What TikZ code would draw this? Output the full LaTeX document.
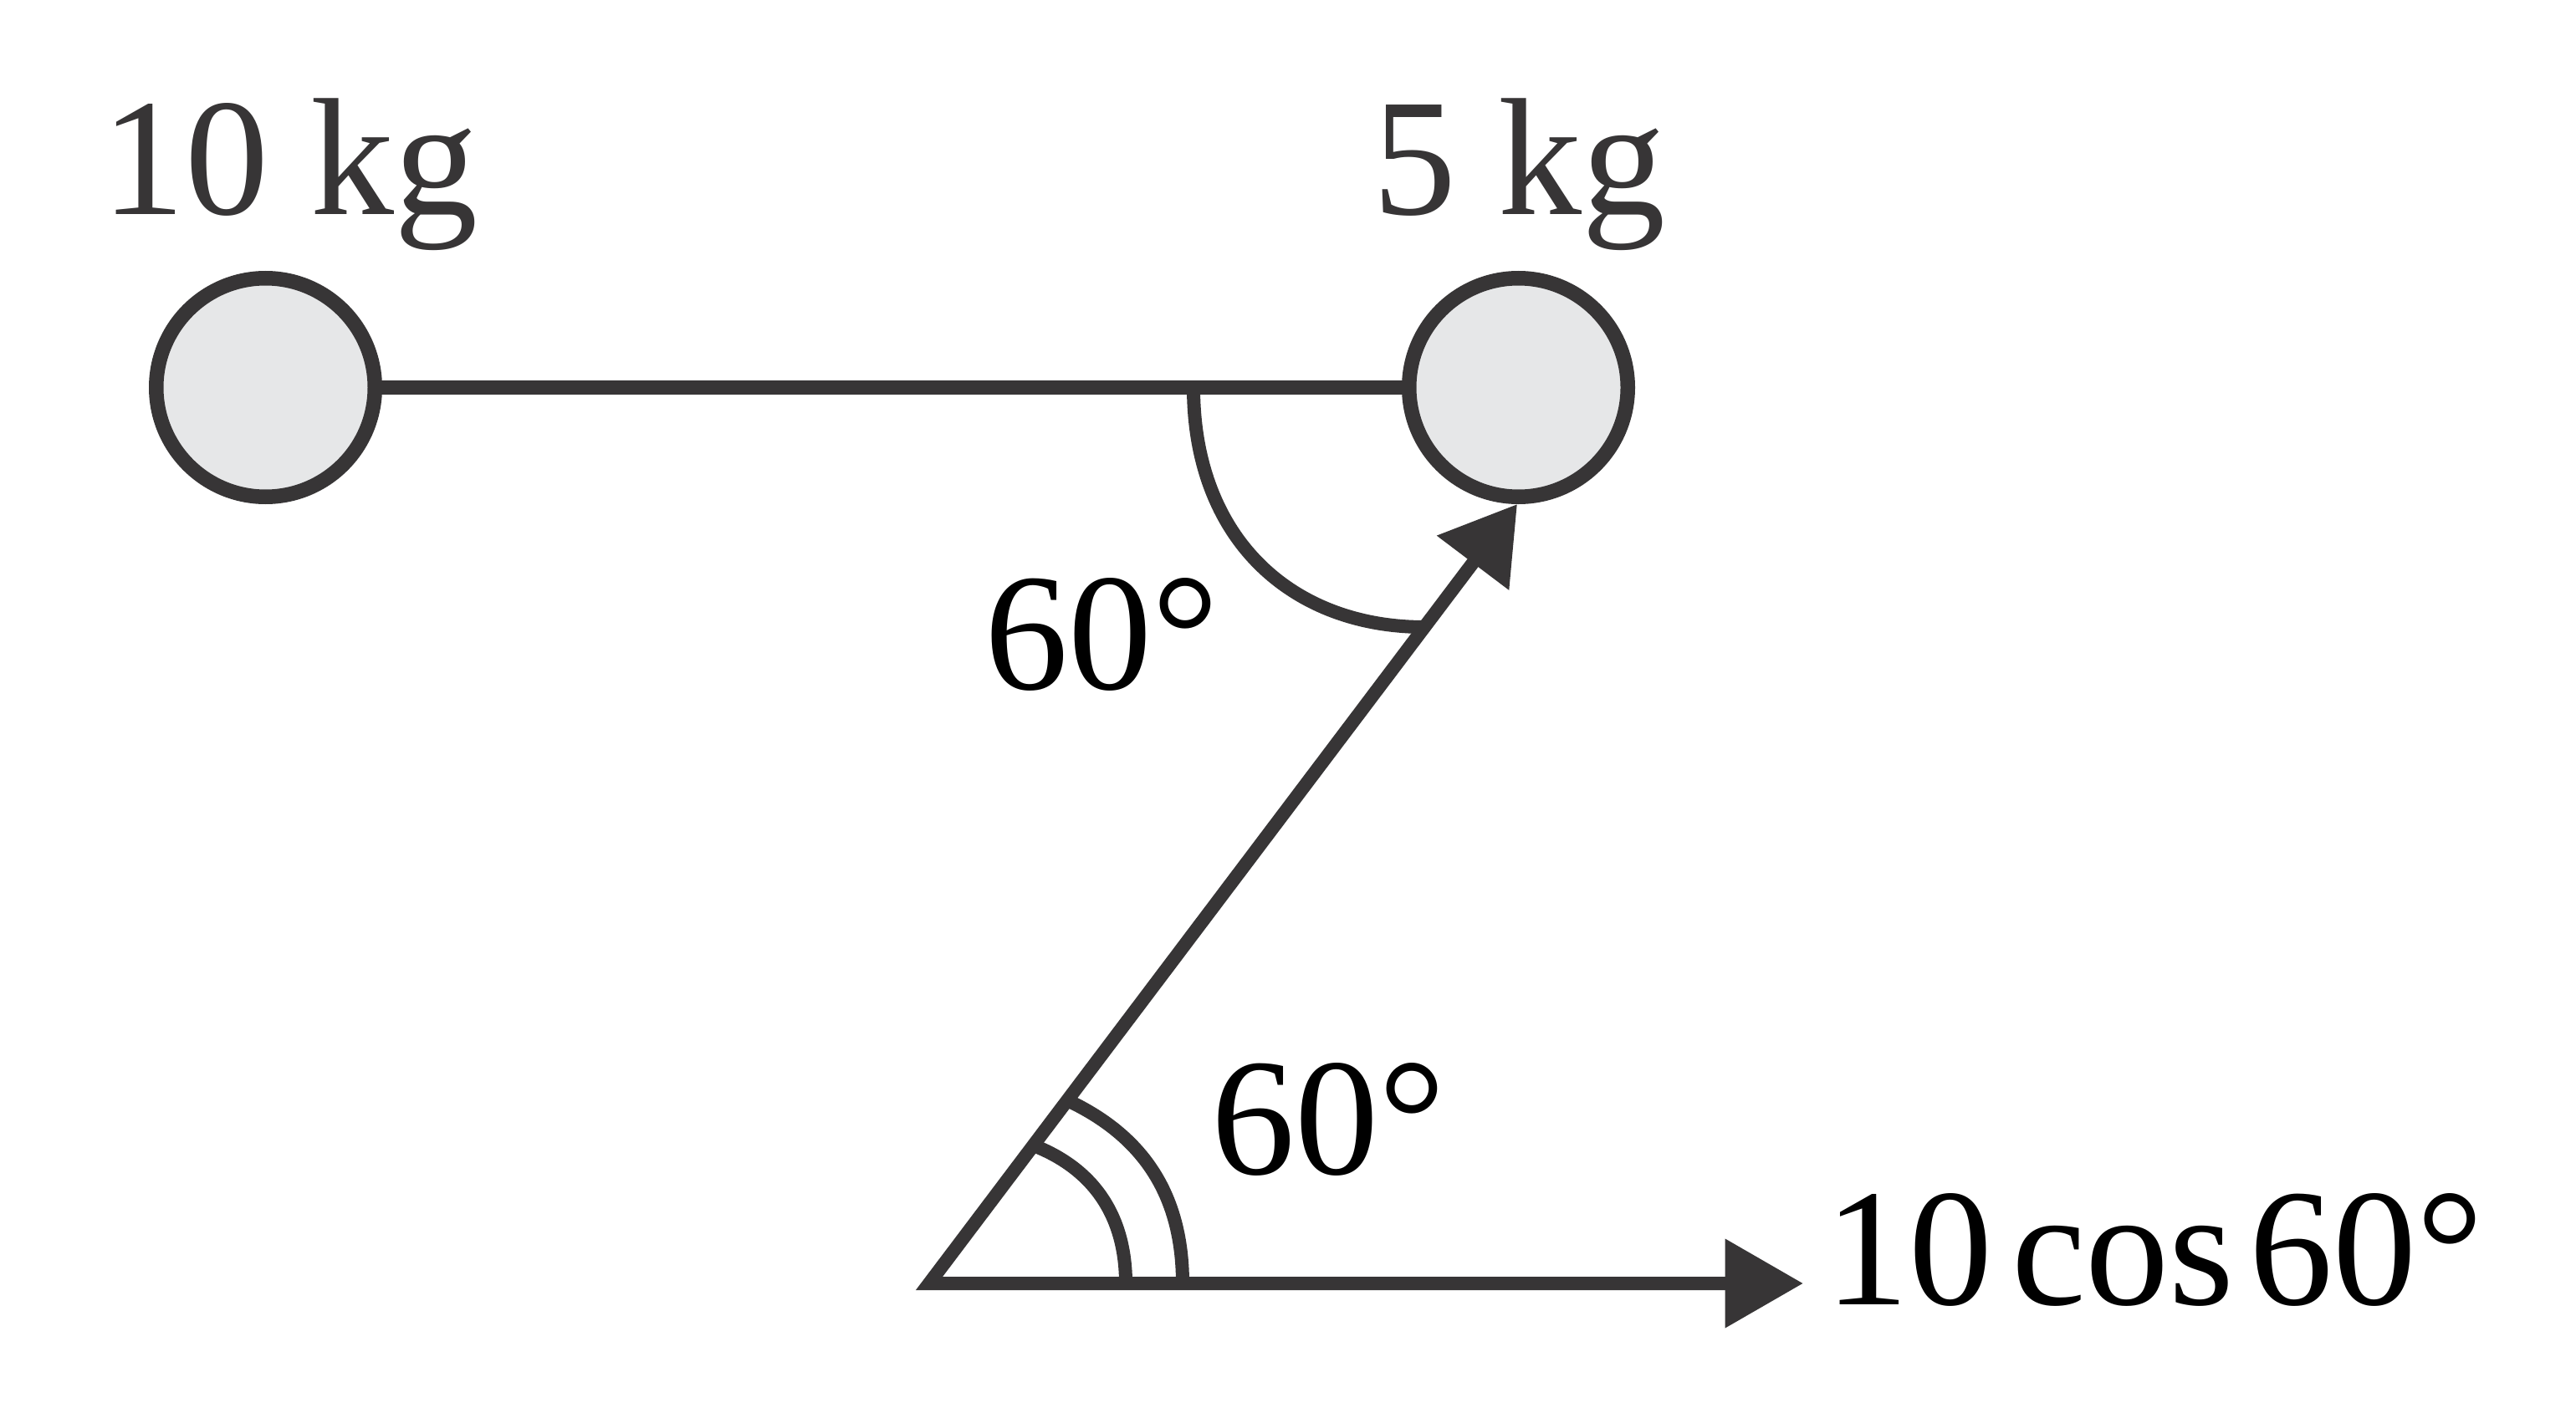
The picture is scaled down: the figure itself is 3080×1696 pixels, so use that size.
\documentclass[tikz,border=0pt]{standalone}
\usepackage{fontspec}
\setmainfont{Liberation Serif}
\usetikzlibrary{arrows.meta}
\definecolor{ink}{HTML}{373536}
\definecolor{ballfill}{HTML}{E6E7E8}
\begin{document}
\begin{tikzpicture}[x=0.5pt,y=-0.5pt,
  line/.style={draw=ink,line width=8pt},
  ball/.style={circle,draw=ink,fill=ballfill,line width=8.75pt,minimum size=130.75pt,inner sep=0pt,outer sep=0pt},
  lbl/.style={anchor=base west,inner sep=0pt,outer sep=0pt,font=\fontsize{100pt}{120pt}\selectfont},
]
\useasboundingbox[fill=white] (0,0) rectangle (3080,1696);
% masses
\node[ball] (m10) at (317.5,463.5) {};
\node[ball] (m5) at (1815.5,463.5) {};
\draw[line,line width=8.3pt] (m10.east) -- (m5.west);
% labels
\node[lbl,text=ink] (t10) at (121,256.7) {10 kg};
\node[lbl,text=ink] (t5) at (1641,256.7) {5 kg};
\node[lbl,text=black] (ang1) at (1177,824) {60°};
\node[lbl,text=black] (ang2) at (1448.5,1404.5) {60°};
\node[lbl,text=black] (comp) at (2182,1560.7) {10\hspace{11.5pt}cos\hspace{9pt}60°};
% vector and component
\coordinate (tip) at (1814,603);
\coordinate (O) at (1111,1535);
\coordinate (xend) at (2156,1535);
\draw[line,line join=miter,{Triangle[length=44pt,width=52pt]}-{Triangle[length=46.7pt,width=51.3pt]}] (tip) -- (O) -- (xend);
% angle arcs
\coordinate (u0) at (1427,463.5);
\coordinate (u1) at (1703,750);
\draw[line] (u0) .. controls (1427,643) and (1543,750) .. (u1);
\coordinate (i0) at (1233,1369);
\coordinate (i1) at (1346,1535);
\draw[line] (i0) .. controls (1310,1398) and (1346,1457) .. (i1);
\coordinate (o0) at (1274,1315);
\coordinate (o1) at (1414,1535);
\draw[line] (o0) .. controls (1365,1357) and (1414,1427) .. (o1);
\end{tikzpicture}
\end{document}
